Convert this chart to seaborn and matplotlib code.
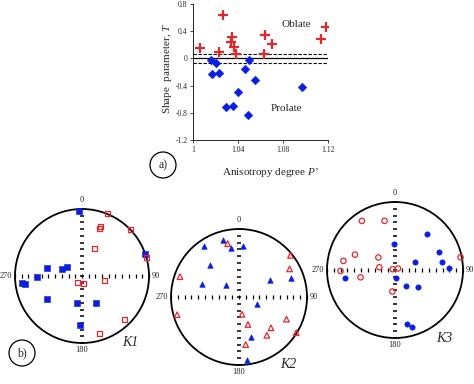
import numpy as np
import matplotlib
matplotlib.use("Agg")
import matplotlib.pyplot as plt
from matplotlib.patches import Circle
import seaborn as sns

# ── Data ────────────────────────────────────────────────────────
# a) Jelinek plot: P' vs T
oblate_P = [1.006, 1.027, 1.023, 1.035, 1.034, 1.036, 1.0385, 1.064, 1.063, 1.0705, 1.114, 1.118]
oblate_T = [0.16, 0.64, 0.10, 0.32, 0.24, 0.17, 0.06, 0.35, 0.07, 0.21, 0.29, 0.46]
prolate_P = [1.0157, 1.0166, 1.0207, 1.023, 1.029, 1.0355, 1.040, 1.046, 1.050, 1.055, 1.049, 1.097]
prolate_T = [-0.03, -0.23, -0.07, -0.22, -0.72, -0.70, -0.49, -0.15, -0.03, -0.32, -0.83, -0.42]

x_ticks = [1, 1.04, 1.08, 1.12]
x_tick_labels = ["1", "1.04", "1.08", "1.12"]
y_ticks = [-1.2, -0.8, -0.4, 0, 0.4, 0.8]
y_tick_labels = ["-1.2", "-0.8", "-0.4", "0", "0.4", "0.8"]
T_band = 0.065

# b) stereonets: trend / plunge (deg), blue = prolate sites, red = oblate sites
k1_blue_trend = [357, 71, 283, 288, 302, 269, 263, 262, 237, 190, 153, 182]
k1_blue_plunge = [3, 0, 45, 64, 69, 33, 10, 15, 38, 56, 52, 28]
k1_red_trend = [22, 21, 20, 46, 25, 74, 214, 165, 102, 136, 163]
k1_red_plunge = [0, 22, 26, 0, 53, 0, 81, 81, 62, 10, 11]

k2_blue_trend = [344, 325, 351, 4, 318, 290, 314, 61, 70, 111, 163, 173]
k2_blue_plunge = [14, 10, 28, 26, 36, 42, 69, 47, 20, 67, 38, 8]
k2_red_trend = [348, 51, 61, 289, 254, 170, 162, 115, 134, 144, 122, 172]
k2_red_plunge = [21, 3, 16, 9, 6, 69, 55, 24, 35, 31, 1, 30]

k3_blue_trend = [42, 357, 68, 68, 80, 88, 261, 173, 145, 126, 167, 163]
k3_blue_plunge = [30, 58, 31, 64, 30, 21, 26, 80, 66, 56, 20, 14]
k3_red_trend = [326, 348, 291, 280, 307, 269, 258, 280, 288, 63, 187, 79]
k3_red_plunge = [14, 27, 37, 24, 65, 21, 47, 71, 87, 86, 64, 2]

BLUE = "#0b1ee0"
RED = "#e3262c"

sns.set_style("ticks")
plt.rcParams["font.family"] = ["Liberation Serif", "DejaVu Serif"]
plt.rcParams["mathtext.fontset"] = "custom"
plt.rcParams["mathtext.it"] = "Liberation Serif:italic"
plt.rcParams["mathtext.rm"] = "Liberation Serif"

W, H, DPI = 474, 384, 100
fig = plt.figure(figsize=(W / DPI, H / DPI), dpi=DPI)


def px_axes(x0, y0, x1, y1):
    # pixel box (top-left origin) -> figure axes
    return fig.add_axes([x0 / W, 1 - y1 / H, (x1 - x0) / W, (y1 - y0) / H])


def circled(label, cx, cy, r=13):
    c = Circle((cx / DPI, (H - cy) / DPI), r / DPI, transform=fig.dpi_scale_trans,
               fill=False, lw=0.9, color="black")
    fig.add_artist(c)
    fig.text(cx / W, 1 - cy / H, label, ha="center", va="center", fontsize=8.5)


# ── a) shape parameter vs anisotropy degree ─────────────────────
ax = px_axes(193, 4, 328, 140)
ax.axhline(0, color="black", lw=0.9)
ax.axhline(T_band, color="black", lw=0.8, ls=(0, (3, 1.5)))
ax.axhline(-T_band, color="black", lw=0.8, ls=(0, (3, 1.5)))
sns.scatterplot(x=oblate_P, y=oblate_T, marker="+", s=50, color=RED,
                linewidth=1.6, ax=ax, zorder=3)
sns.scatterplot(x=prolate_P, y=prolate_T, marker="D", s=20, color=BLUE,
                edgecolor=BLUE, linewidth=0.3, ax=ax, zorder=3)
ax.set_xlim(1, 1.12)
ax.set_ylim(-1.2, 0.8)
ax.set_xticks(x_ticks, x_tick_labels)
ax.set_yticks(y_ticks, y_tick_labels)
ax.tick_params(labelsize=5.5, length=2.5, width=0.6, pad=1.5)
for s in ["left", "bottom"]:
    ax.spines[s].set_linewidth(0.7)
sns.despine(ax=ax)
ax.text(1.092, 0.5, "Oblate", fontsize=8, ha="center", va="center")
ax.text(1.083, -0.73, "Prolate", fontsize=8, ha="center", va="center")
fig.text(167 / W, 1 - 68 / H, "Shape  parameter, $T$", rotation=90,
         ha="center", va="center", fontsize=8)
fig.text(270 / W, 1 - 172 / H, "Anisotropy degree $P$\u2019",
         ha="center", va="center", fontsize=8)
circled("a)", 163, 165)


# ── b) equal-area stereonets ────────────────────────────────────
def project(trend, plunge):
    t = np.radians(trend)
    r = np.sqrt(2) * np.sin(np.radians(90 - np.asarray(plunge)) / 2)
    return r * np.sin(t), r * np.cos(t)


def stereonet(cx, cy, rad, name, blue, red, marker, ms):
    lim = 1.45
    R = rad * lim
    sax = px_axes(cx - R, cy - R, cx + R, cy + R)
    sax.set_xlim(-lim, lim)
    sax.set_ylim(-lim, lim)
    sax.set_aspect("equal")
    sax.axis("off")
    sax.patch.set_alpha(0)
    sax.add_patch(Circle((0, 0), 1, fill=False, lw=1.3, color="black", zorder=1))
    # cross made of short perpendicular ticks
    steps = np.arange(-1.0, 1.001, 0.1)
    sax.plot(steps, np.zeros_like(steps), ls="none", marker="|", ms=2.5,
             mew=0.9, color="black", zorder=1)
    sax.plot(np.zeros_like(steps), steps, ls="none", marker="_", ms=2.5,
             mew=1.1, color="black", zorder=1)
    fs = 6
    sax.text(0, 1.07, "0", ha="center", va="bottom", fontsize=fs)
    sax.text(0, -1.04, "180", ha="center", va="top", fontsize=fs)
    sax.text(-1.04, 0, "270", ha="right", va="center", fontsize=fs)
    sax.text(1.04, 0, "90", ha="left", va="center", fontsize=fs)
    bx, by = project(*blue)
    rx, ry = project(*red)
    sns.scatterplot(x=bx, y=by, marker=marker, s=ms, color=BLUE, edgecolor=BLUE,
                    linewidth=0.4, ax=sax, zorder=3, clip_on=False)
    sns.scatterplot(x=rx, y=ry, marker=marker, s=ms, facecolor="none", edgecolor=RED,
                    linewidth=0.9, ax=sax, zorder=3, clip_on=False)
    sax.text(0.72, -1.0, name, ha="center", va="center", fontsize=10, style="italic")


stereonet(82, 276, 67, "K1", (k1_blue_trend, k1_blue_plunge),
          (k1_red_trend, k1_red_plunge), "s", 13)
stereonet(239, 297, 68, "K2", (k2_blue_trend, k2_blue_plunge),
          (k2_red_trend, k2_red_plunge), "^", 16)
stereonet(395, 270, 68, "K3", (k3_blue_trend, k3_blue_plunge),
          (k3_red_trend, k3_red_plunge), "o", 15)
circled("b)", 22, 353)

fig.savefig("out.png", dpi=DPI)
